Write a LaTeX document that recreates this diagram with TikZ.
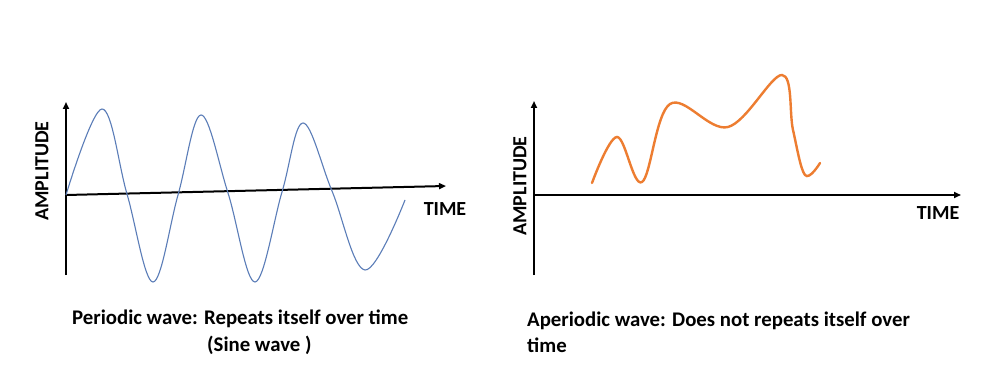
\documentclass[tikz,border=0pt]{standalone}
\usepackage{fontspec}
\setmainfont{Carlito}
\usetikzlibrary{arrows.meta,positioning}
\definecolor{sineblue}{RGB}{91,125,184}
\definecolor{waveorange}{RGB}{237,125,49}
\tikzset{
  axis/.style={line width=2pt,-{Triangle[length=7pt,width=6pt]}},
  lbl/.style={font=\bfseries\fontsize{20}{22}\selectfont,inner sep=0pt},
  caption/.style={font=\bfseries\fontsize{20.8}{26}\selectfont,inner sep=0pt,anchor=west,align=left}
}
\begin{document}
\begin{tikzpicture}[x=1pt,y=-1pt]
\useasboundingbox[fill=white] (0,0) rectangle (981,371);
% periodic wave
\coordinate (o1) at (66,195);
\coordinate (ytop1) at (66,102);
\coordinate (ybot1) at (66,275);
\coordinate (xend1) at (446,186);
\draw[axis] (ybot1) -- (ytop1);
\draw[axis] (o1) -- (xend1);
\draw[sineblue,line width=1.1pt] plot[smooth,tension=0.6] coordinates {
  (66,195) (102,109) (127,194) (153,282) (178,195) (201,115) (228,193)
  (255,282) (282,192) (303,123) (332,191) (365,270) (405,200)};
\node[lbl,rotate=90] (amp1) at (42,171) {AMPLITUDE};
\node[lbl] (time1) at (445,209) {TIME};
\node[caption] (cap1) at (72,319) {Periodic wave: Repeats itself over time};
\node[caption] (cap2) at (207,345) {(Sine wave )};
% aperiodic wave
\coordinate (o2) at (534,195);
\coordinate (ytop2) at (534,101);
\coordinate (ybot2) at (534,275);
\coordinate (xend2) at (961,195);
\draw[axis] (ybot2) -- (ytop2);
\draw[axis] (o2) -- (xend2);
\draw[waveorange,line width=2.4pt,line cap=round] plot[smooth,tension=0.6] coordinates {
  (592,183) (617,137) (642,182) (670,104) (728,127) (782,75) (793,130)
  (805,175) (820,163)};
\node[lbl,rotate=90] (amp2) at (520,186) {AMPLITUDE};
\node[lbl] (time2) at (938,213) {TIME};
\node[caption] (cap3) at (527,332) {Aperiodic wave: Does not repeats itself over\\time};
\end{tikzpicture}
\end{document}
